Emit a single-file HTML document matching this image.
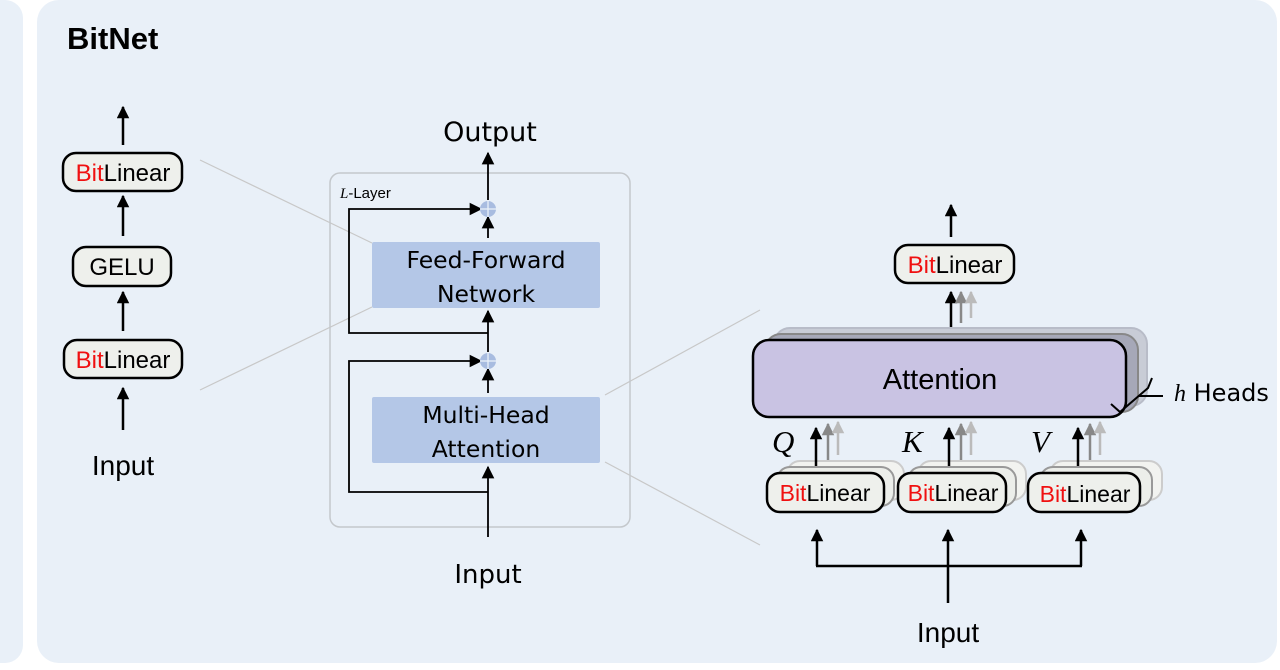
<!DOCTYPE html>
<html><head><meta charset="utf-8"><style>
html,body{margin:0;padding:0;background:#fff;width:1280px;height:670px;overflow:hidden}
svg{display:block}
text{font-family:"Liberation Sans",sans-serif}
</style></head><body>
<svg width="1280" height="670" viewBox="0 0 1280 670" xmlns="http://www.w3.org/2000/svg">
<defs>
<marker id="a" viewBox="0 0 10 10" refX="9" refY="5" markerWidth="5" markerHeight="5" orient="auto-start-reverse"><path d="M0,0L10,5L0,10z" fill="#000"/></marker>
<marker id="s" viewBox="0 0 10 10" refX="9" refY="5" markerWidth="7" markerHeight="7" orient="auto"><path d="M0,0L10,5L0,10z" fill="#000"/></marker>
<marker id="g1" viewBox="0 0 10 10" refX="9" refY="5" markerWidth="5" markerHeight="5" orient="auto"><path d="M0,0L10,5L0,10z" fill="#888"/></marker>
<marker id="g2" viewBox="0 0 10 10" refX="9" refY="5" markerWidth="5" markerHeight="5" orient="auto"><path d="M0,0L10,5L0,10z" fill="#bbb"/></marker>
</defs>
<path d="M0,0H5A18,18 0 0 1 23,18V645A18,18 0 0 1 5,663H0Z" fill="#e9f0f8"/>
<rect x="37" y="0" width="1240" height="663" rx="22" fill="#e9f0f8"/>
<text x="67" y="49" font-size="31" font-weight="bold">BitNet</text>

<!-- left column -->
<g stroke="#000" stroke-width="2.5" fill="none">
<line x1="123" y1="145" x2="123" y2="107" marker-end="url(#a)"/>
<line x1="123" y1="236" x2="123" y2="196" marker-end="url(#a)"/>
<line x1="123" y1="331" x2="123" y2="292" marker-end="url(#a)"/>
<line x1="123" y1="430" x2="123" y2="388" marker-end="url(#a)"/>
</g>
<g stroke="#000" stroke-width="2.5" fill="#eef0ec">
<rect x="63" y="153" width="119" height="38" rx="13"/>
<rect x="73" y="247" width="98" height="39" rx="13"/>
<rect x="64" y="340" width="118" height="38" rx="13"/>
</g>
<g font-size="24" text-anchor="middle">
<text x="123" y="181"><tspan fill="#f01010">Bit</tspan>Linear</text>
<text x="122" y="275">GELU</text>
<text x="123" y="368"><tspan fill="#f01010">Bit</tspan>Linear</text>
<text x="123" y="475" font-size="28">Input</text>
</g>
<g stroke="#c8c8c8" stroke-width="1.2">
<line x1="200" y1="160" x2="372" y2="243"/>
<line x1="200" y1="390" x2="372" y2="307"/>
<line x1="605" y1="395" x2="760" y2="310"/>
<line x1="605" y1="462" x2="760" y2="545"/>
</g>

<!-- middle -->
<rect x="330" y="173" width="300" height="354" rx="10" fill="none" stroke="#c4c8cc" stroke-width="1.5"/>
<text x="340" y="198" font-size="15"><tspan style="font-family:'Liberation Serif'" font-style="italic">L</tspan>-Layer</text>
<text x="490" y="141" font-size="27" text-anchor="middle" style="font-family:'DejaVu Sans',sans-serif">Output</text>
<rect x="372" y="242" width="228" height="66" rx="2" fill="#b4c7e7"/>
<rect x="372" y="397" width="228" height="66" rx="2" fill="#b4c7e7"/>
<g font-size="23.5" text-anchor="middle">
<text x="486" y="268" style="font-family:'DejaVu Sans',sans-serif">Feed-Forward</text>
<text x="486" y="302" style="font-family:'DejaVu Sans',sans-serif">Network</text>
<text x="486" y="423" style="font-family:'DejaVu Sans',sans-serif">Multi-Head</text>
<text x="486" y="457" style="font-family:'DejaVu Sans',sans-serif">Attention</text>
</g>
<text x="488" y="583" font-size="26" text-anchor="middle" style="font-family:'DejaVu Sans',sans-serif">Input</text>
<g stroke="#000" stroke-width="1.8" fill="none">
<line x1="488" y1="200" x2="488" y2="153" marker-end="url(#s)"/>
<line x1="488" y1="238" x2="488" y2="217" marker-end="url(#s)"/>
<polyline points="488,333 349,333 349,209 481,209" marker-end="url(#s)"/>
<line x1="488" y1="352" x2="488" y2="311" marker-end="url(#s)"/>
<line x1="488" y1="393" x2="488" y2="369" marker-end="url(#s)"/>
<polyline points="488,492 349,492 349,361 481,361" marker-end="url(#s)"/>
<line x1="488" y1="537" x2="488" y2="467" marker-end="url(#s)"/>
</g>
<g fill="#a8bce0"><circle cx="488" cy="209" r="8"/><circle cx="488" cy="361" r="8"/></g>
<g stroke="#e9f0f8" stroke-width="1.3"><line x1="488" y1="201" x2="488" y2="217"/><line x1="480" y1="209" x2="496" y2="209"/><line x1="488" y1="353" x2="488" y2="369"/><line x1="480" y1="361" x2="496" y2="361"/></g>

<!-- right -->
<rect x="895" y="245" width="119" height="38" rx="13" fill="#eef0ec" stroke="#000" stroke-width="2.5"/>
<text x="955" y="273" font-size="24" text-anchor="middle"><tspan fill="#f01010">Bit</tspan>Linear</text>
<line x1="951" y1="237" x2="951" y2="205" stroke="#000" stroke-width="2.5" marker-end="url(#a)"/>
<line x1="951" y1="330" x2="951" y2="292" stroke="#000" stroke-width="2.5" marker-end="url(#a)"/>
<line x1="961" y1="323" x2="961" y2="292" stroke="#888" stroke-width="2.5" marker-end="url(#g1)"/>
<line x1="971" y1="318" x2="971" y2="292" stroke="#bbb" stroke-width="2.5" marker-end="url(#g2)"/>
<rect x="774" y="328" width="373" height="78" rx="16" fill="#c8ccd6" stroke="#b8bcc8" stroke-width="2"/>
<rect x="765" y="334" width="373" height="78" rx="16" fill="#a6a8b8" stroke="#888" stroke-width="2"/>
<rect x="753" y="340" width="373" height="77" rx="16" fill="#c9c3e3" stroke="#000" stroke-width="2.5"/>
<text x="940" y="389" font-size="29" text-anchor="middle">Attention</text>
<path d="M1111,404L1120,412L1148,388L1152,378M1138,396H1163" stroke="#000" stroke-width="2" fill="none"/>
<text x="1174" y="401" font-size="24" style="font-family:'DejaVu Sans',sans-serif"><tspan font-style="italic" style="font-family:'Liberation Serif'">h</tspan> Heads</text>

<g font-style="italic" font-size="31">
<text x="772" y="452" style="font-family:'Liberation Serif'">Q</text>
<text x="902" y="452" style="font-family:'Liberation Serif'">K</text>
<text x="1031" y="452" style="font-family:'Liberation Serif'">V</text>
</g>
<g stroke-width="2" >
<rect x="787" y="461" width="117" height="39" rx="13" fill="#f2f3f0" stroke="#ccc"/>
<rect x="777" y="467" width="117" height="39" rx="13" fill="#eceeea" stroke="#999"/>
<rect x="918" y="461" width="108" height="39" rx="13" fill="#f2f3f0" stroke="#ccc"/>
<rect x="908" y="467" width="108" height="39" rx="13" fill="#eceeea" stroke="#999"/>
<rect x="1050" y="461" width="112" height="39" rx="13" fill="#f2f3f0" stroke="#ccc"/>
<rect x="1040" y="467" width="112" height="39" rx="13" fill="#eceeea" stroke="#999"/>
</g>
<g stroke="#000" stroke-width="2.5" fill="#eef0ec">
<rect x="767" y="473" width="117" height="39" rx="13"/>
<rect x="898" y="473" width="108" height="39" rx="13"/>
<rect x="1028" y="473" width="112" height="39" rx="13"/>
</g>
<g font-size="23" text-anchor="middle">
<text x="825" y="501"><tspan fill="#f01010">Bit</tspan>Linear</text>
<text x="953" y="501"><tspan fill="#f01010">Bit</tspan>Linear</text>
<text x="1085" y="502"><tspan fill="#f01010">Bit</tspan>Linear</text>
</g>
<g stroke-width="2.5">
<line x1="816" y1="466" x2="816" y2="428" stroke="#000" marker-end="url(#a)"/>
<line x1="828" y1="460" x2="828" y2="424" stroke="#888" marker-end="url(#g1)"/>
<line x1="838" y1="455" x2="838" y2="422" stroke="#bbb" marker-end="url(#g2)"/>
<line x1="949" y1="466" x2="949" y2="428" stroke="#000" marker-end="url(#a)"/>
<line x1="961" y1="460" x2="961" y2="424" stroke="#888" marker-end="url(#g1)"/>
<line x1="971" y1="455" x2="971" y2="422" stroke="#bbb" marker-end="url(#g2)"/>
<line x1="1078" y1="466" x2="1078" y2="428" stroke="#000" marker-end="url(#a)"/>
<line x1="1090" y1="460" x2="1090" y2="424" stroke="#888" marker-end="url(#g1)"/>
<line x1="1100" y1="455" x2="1100" y2="422" stroke="#bbb" marker-end="url(#g2)"/>
</g>
<g stroke="#000" stroke-width="2.5" fill="none">
<line x1="948" y1="603" x2="948" y2="530" marker-end="url(#a)"/>
<polyline points="817,566 817,530" marker-end="url(#a)"/>
<polyline points="1081,566 1081,530" marker-end="url(#a)"/>
<line x1="816" y1="566" x2="1082" y2="566"/>
</g>
<text x="948" y="642" font-size="28" text-anchor="middle">Input</text>
</svg>
</body></html>
